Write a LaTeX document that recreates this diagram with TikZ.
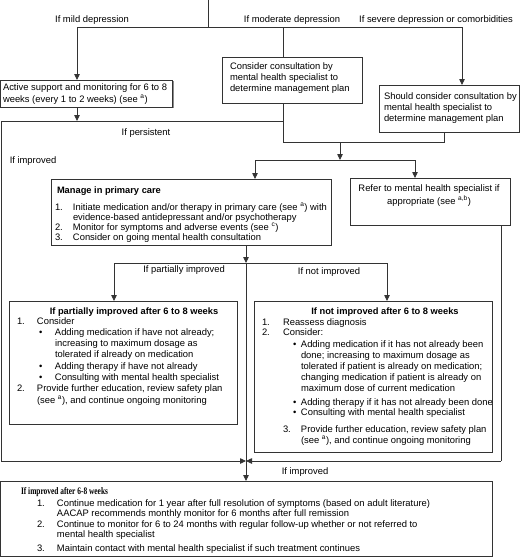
\documentclass[tikz,border=0pt]{standalone}
\usepackage{fontspec}
\setmainfont{Liberation Sans}
\newfontfamily\serifb{Liberation Serif}
\usetikzlibrary{arrows.meta,shadows}
\newcommand\fsz[2]{\fontsize{#1}{#2}\selectfont}
\newcommand\nb[2]{\makebox[#1][l]{#2}}
\newcommand\ind[1]{\makebox[#1]{}}
\begin{document}
\begin{tikzpicture}[x=1pt,y=-1pt,
 line/.style={draw=black!80, line width=0.8pt},
 arr/.style={line, -{Triangle[width=5.5pt,length=6pt]}},
 box/.style={draw=black!80, line width=0.8pt, fill=white, inner sep=0pt, outer sep=0pt, anchor=north west,
   drop shadow={shadow xshift=1pt, shadow yshift=-1pt, fill=black!45, opacity=1}},
 txt/.style={inner sep=0pt, outer sep=0pt, align=left, anchor=base west, font=\fsz{9.4}{11}},
 ctxt/.style={inner sep=0pt, outer sep=0pt, align=center, anchor=base, font=\fsz{9.4}{11}},
 lbl/.style={inner sep=0pt, anchor=base, font=\fsz{9.4}{11}},
]
\useasboundingbox (0,0) rectangle (520,557);

% boxes
\node[box, minimum width=172pt, minimum height=27pt] (act) at (0.5,80) {};
\node[box, minimum width=140pt, minimum height=46pt] (mid) at (222,57) {};
\node[box, minimum width=140pt, minimum height=47pt] (sev) at (379,85) {};
\node[box, minimum width=280pt, minimum height=66pt] (manage) at (51,179) {};
\node[box, minimum width=160pt, minimum height=47pt] (refer) at (350,178) {};
\node[box, minimum width=228pt, minimum height=123pt] (partial) at (9,301) {};
\node[box, minimum width=238pt, minimum height=151pt] (notimp) at (254,301) {};
\node[box, minimum width=491.5pt, minimum height=75pt] (bottom) at (0.5,481) {};

% junction coordinates
\coordinate (top) at (208,0);
\coordinate (j1T) at (208,27);
\coordinate (j1L) at (77,27);
\coordinate (j1M) at (283,27);
\coordinate (j1R) at (462,27);
\coordinate (j2L) at (77,121);
\coordinate (j2W) at (1,121);
\coordinate (j2E) at (283,121);
\coordinate (j3M) at (283,142);
\coordinate (j3C) at (340,142);
\coordinate (j3R) at (444,142);
\coordinate (j4C) at (340,160);
\coordinate (j4L) at (255,160);
\coordinate (j4R) at (415,160);
\coordinate (j5C) at (246,263);
\coordinate (j5L) at (114,263);
\coordinate (j5R) at (387,263);
\coordinate (j6C) at (246,461);
\coordinate (j6W) at (1,461);
\coordinate (j6E) at (501,461);

% connectors
\draw[line] (top) -- (j1T);
\draw[line] (j1L) -- (j1R);
\draw[arr] (j1L) -- (act.north -| j1L);
\draw[line] (j1M) -- (mid.north -| j1M);
\draw[arr] (j1R) -- (sev.north -| j1R);
\draw[arr] (act.south -| j2L) -- (j2L);
\draw[line] (j2W) -- (j2E);
\draw[line] (mid.south -| j3M) -- (j3M) -- (j3R) -- (sev.south -| j3R);
\draw[arr] (j3C) -- (j4C);
\draw[line] (j4L) -- (j4R);
\draw[arr] (j4L) -- (manage.north -| j4L);
\draw[arr] (j4R) -- (refer.north -| j4R);
\draw[arr] (manage.south -| j5C) -- (j5C);
\draw[line] (j5L) -- (j5R);
\draw[arr] (j5L) -- (partial.north -| j5L);
\draw[arr] (j5R) -- (notimp.north -| j5R);
\draw[line] (j5C) -- (j6C);
\draw[line] (j2W) -- (j6W);
\draw[arr] (j6W) -- (j6C);
\draw[line] (refer.south -| j6E) -- (j6E);
\draw[arr] (j6E) -- (j6C);
\draw[arr] (j6C) -- (bottom.north -| j6C);

% labels
\node[lbl] (l1) at (92,22) {If mild depression};
\node[lbl] (l2) at (292,22) {If moderate depression};
\node[lbl] (l3) at (436,22) {If severe depression or comorbidities};
\node[lbl] (l4) at (146,135) {If persistent};
\node[lbl] (l5) at (33,163) {If improved};
\node[lbl] (l6) at (184,272) {If partially improved};
\node[lbl] (l7) at (329,274) {If not improved};
\node[lbl] (l8) at (305,474) {If improved};

% box texts (anchor = baseline of last line)
\node[txt, font=\fsz{9.4}{12}] (actT) at (3,102) {Active support and monitoring for 6 to 8\\weeks (every 1 to 2 weeks) (see \textsuperscript{a})};
\node[txt] (midT) at (230,91) {Consider consultation by\\mental health specialist to\\determine management plan};
\node[txt] (sevT) at (384,121) {Should consider consultation by\\mental health specialist to\\determine management plan};
\node[txt, font=\fsz{9.3}{11}\bfseries] (manT) at (57,193) {Manage in primary care};
\node[txt, font=\fsz{9.4}{10.1}] (manL) at (55,240.3) {\nb{18pt}{1.}Initiate medication and/or therapy in primary care (see \textsuperscript{a}) with\\\ind{18pt}evidence-based antidepressant and/or psychotherapy\\\nb{18pt}{2.}Monitor for symptoms and adverse events (see \textsuperscript{c})\\\nb{18pt}{3.}Consider on going mental health consultation};
\node[ctxt, font=\fsz{9.4}{13}] (refT) at (429,204) {Refer to mental health specialist if\\appropriate (see \textsuperscript{a,b})};

\node[lbl, font=\fsz{9.3}{11}\bfseries] (parT) at (134,314) {If partially improved after 6 to 8 weeks};
\node[txt, font=\fsz{9.4}{11.3}] (parL) at (17,403.1) {\nb{20pt}{1.}Consider\\
\ind{22pt}\nb{16pt}{•}Adding medication if have not already;\\
\ind{38pt}increasing to maximum dosage as\\
\ind{38pt}tolerated if already on medication\\
\ind{22pt}\nb{16pt}{•}Adding therapy if have not already\\
\ind{22pt}\nb{16pt}{•}Consulting with mental health specialist\\
\nb{20pt}{2.}Provide further education, review safety plan\\
\ind{20pt}(see \textsuperscript{a}), and continue ongoing monitoring};

\node[lbl, font=\fsz{9.3}{11}\bfseries] (notT) at (385,314) {If not improved after 6 to 8 weeks};
\node[txt, font=\fsz{9.4}{10.8}] (notA) at (262,335.8) {\nb{21pt}{1.}Reassess diagnosis\\\nb{21pt}{2.}Consider:};
\node[txt, font=\fsz{9.4}{11.2}] (notB) at (293,391.8) {\nb{8pt}{•}Adding medication if it has not already been\\
\ind{8pt}done; increasing to maximum dosage as\\
\ind{8pt}tolerated if patient is already on medication;\\
\ind{8pt}changing medication if patient is already on\\
\ind{8pt}maximum dose of current medication};
\node[txt, font=\fsz{9.4}{10.8}] (notC) at (293,415.8) {\nb{8pt}{•}Adding therapy if it has not already been done\\\nb{8pt}{•}Consulting with mental health specialist};
\node[txt, font=\fsz{9.4}{11}] (notD) at (283,443) {\nb{18pt}{3.}Provide further education, review safety plan\\\ind{18pt}(see \textsuperscript{a}), and continue ongoing monitoring};

\node[txt, font=\serifb\fsz{10}{11}\bfseries] (botT) at (21,494.5) {\scalebox{0.74}[1]{If improved after 6-8 weeks}};
\node[txt, font=\fsz{9.4}{10.5}] (botL) at (37,537.5) {\nb{20pt}{1.}Continue medication for 1 year after full resolution of symptoms (based on adult literature)\\
\ind{20pt}AACAP recommends monthly monitor for 6 months after full remission\\
\nb{20pt}{2.}Continue to monitor for 6 to 24 months with regular follow-up whether or not referred to\\
\ind{20pt}mental health specialist};
\node[txt] (bot3) at (37,551) {\nb{20pt}{3.}Maintain contact with mental health specialist if such treatment continues};
\end{tikzpicture}
\end{document}
